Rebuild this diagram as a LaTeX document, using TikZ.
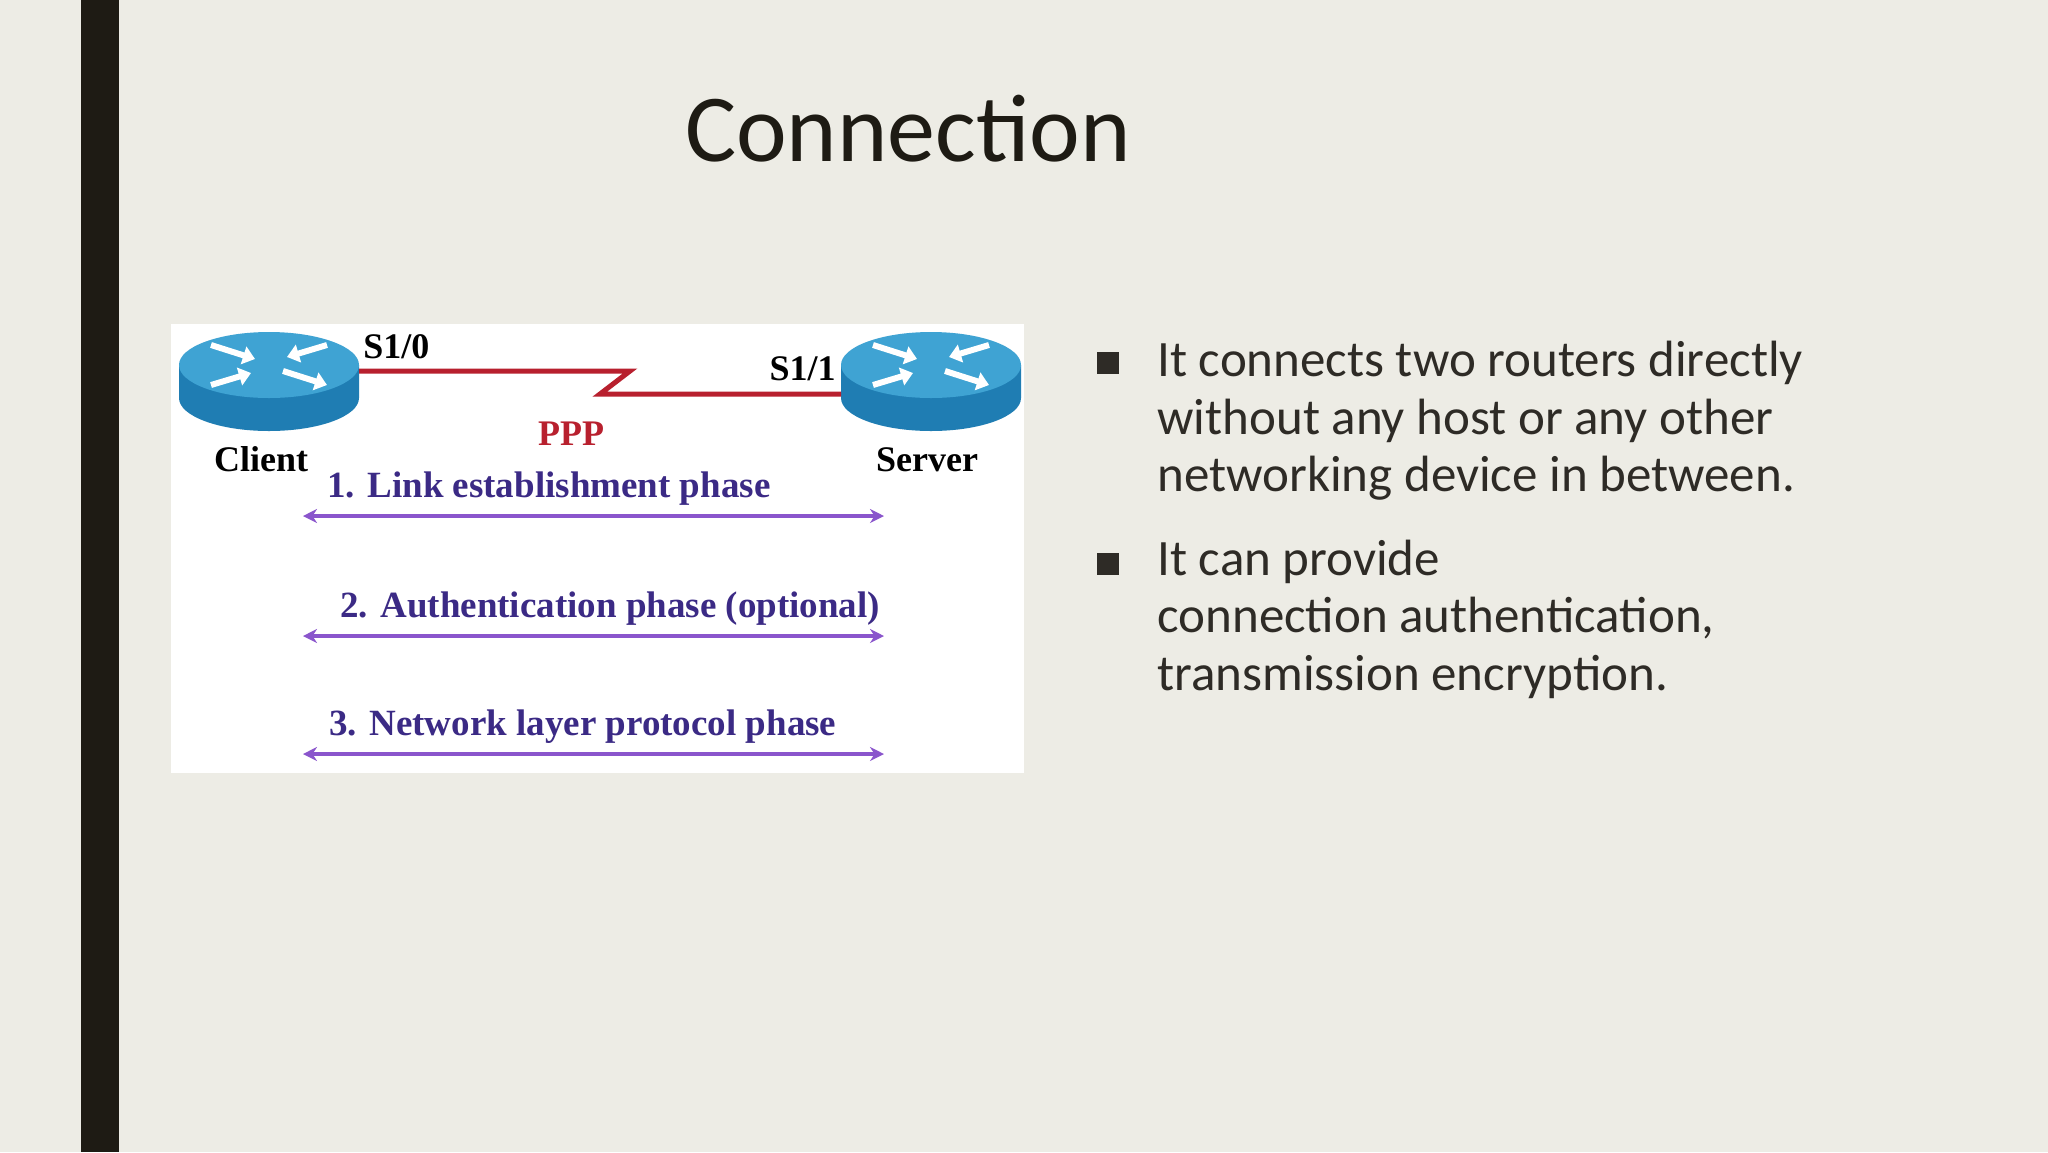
\documentclass[tikz,border=0pt]{standalone}
\usepackage{fontspec}
\setmainfont{Carlito}
\newfontfamily\serifb{Liberation Serif}
\usetikzlibrary{arrows.meta}
\definecolor{bg}{HTML}{EDECE5}
\definecolor{bar}{HTML}{1E1B14}
\definecolor{rtop}{HTML}{3FA3D3}
\definecolor{rside}{HTML}{1F7DB3}
\definecolor{pline}{HTML}{B8202E}
\definecolor{ptext}{HTML}{3B2A85}
\definecolor{parrow}{HTML}{8A55CC}
\definecolor{btext}{HTML}{2E2B26}
\tikzset{
  lbl/.style={font=\serifb\bfseries\fontsize{18}{20}\selectfont, text=black, inner sep=0pt},
  phase/.style={font=\serifb\bfseries\fontsize{18.5}{20}\selectfont, text=ptext, inner sep=0pt},
  parr/.style={draw=parrow, line width=1.6pt, {Stealth[length=7pt,width=7pt]}-{Stealth[length=7pt,width=7pt]}},
  body/.style={font=\fontsize{25.5}{29}\selectfont, text=btext, anchor=base west, inner sep=0pt},
  bul/.style={fill=btext, minimum size=11pt, inner sep=0pt},
  rarrow/.style={white, line width=3pt, -{Triangle[length=6pt,width=9pt]}}
}
\newcommand{\router}[3]{% name, cx, cy(top ellipse centre)
  \fill[rside] (#2-90,#3) -- (#2-90,#3+33) arc[start angle=180,end angle=0,x radius=90,y radius=33] -- (#2+90,#3) -- cycle;
  \fill[rtop] (#2,#3) ellipse[x radius=90,y radius=33];
  \draw[rarrow] (#2-58,#3-20) -- (#2-14,#3-6);
  \draw[rarrow] (#2+14,#3+6) -- (#2+58,#3+20);
  \draw[rarrow] (#2+58,#3-20) -- (#2+18,#3-8);
  \draw[rarrow] (#2-58,#3+20) -- (#2-18,#3+8);
  \coordinate (#1) at (#2,#3);
}
\begin{document}
\begin{tikzpicture}[x=0.5pt,y=-0.5pt]
\useasboundingbox (0,0) rectangle (2048,1152);
\fill[bg] (0,0) rectangle (2048,1152);
\fill[bar] (81,0) rectangle (119,1152);
\node[font=\fontsize{48}{52}\selectfont, text=bar, anchor=base] (title) at (908,161) {Connection};
% diagram
\fill[white] (171,324) rectangle (1024,773);
\router{cl}{269}{365}
\router{sv}{931}{365}
\coordinate (z1) at (630,371);
\coordinate (z2) at (600,394);
\draw[pline, line width=2.5pt] (359,371) -- (z1) -- (z2) -- (841,394);
\node[lbl, anchor=base west] (s10) at (363,358) {S1/0};
\node[lbl, anchor=base east] (s11) at (836,380) {S1/1};
\node[lbl, text=pline, anchor=base] (ppp) at (571,445) {PPP};
\node[lbl, anchor=base] (client) at (261,471) {Client};
\node[lbl, anchor=base] (server) at (927,471) {Server};
\coordinate (a1l) at (303,516); \coordinate (a1r) at (884,516);
\coordinate (a2l) at (303,636); \coordinate (a2r) at (884,636);
\coordinate (a3l) at (303,754); \coordinate (a3r) at (884,754);
\node[phase, anchor=base west] (p1) at (327,497) {1. Link establishment phase};
\node[phase, anchor=base west] (p2) at (340,617) {2. Authentication phase (optional)};
\node[phase, anchor=base west] (p3) at (329,735) {3. Network layer protocol phase};
\draw[parr] (a1l) -- (a1r);
\draw[parr] (a2l) -- (a2r);
\draw[parr] (a3l) -- (a3r);
% bullets
\node[bul] (b1) at (1108,363) {};
\node[bul] (b2) at (1108,564) {};
\node[body] (t11) at (1157,376) {It connects two routers directly};
\node[body] (t12) at (1157,434) {without any host or any other};
\node[body] (t13) at (1157,491) {networking device in between.};
\node[body] (t21) at (1157,575) {It can provide};
\node[body] (t22) at (1157,632) {connection authentication,};
\node[body] (t23) at (1157,690) {transmission encryption.};
\end{tikzpicture}
\end{document}
